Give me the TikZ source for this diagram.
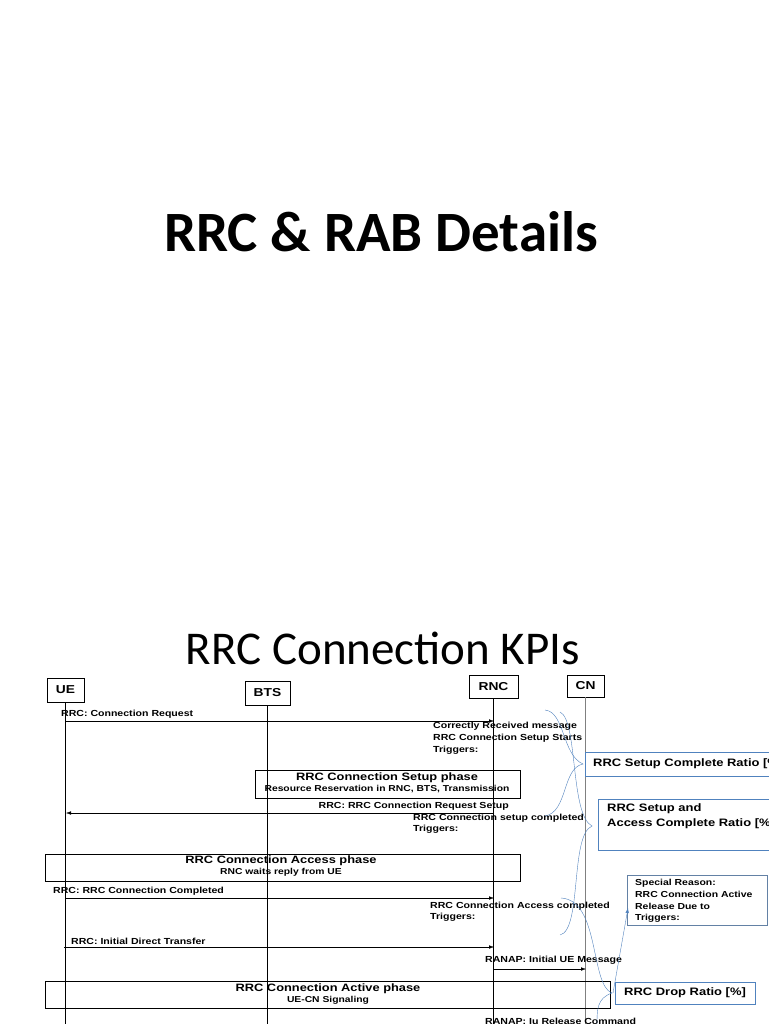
\documentclass[tikz,border=0pt]{standalone}
\usepackage{fontspec}
\setmainfont{Liberation Sans}[FakeStretch=1.2]
\newfontfamily\carlitofont{Carlito}
\usetikzlibrary{arrows.meta}
\definecolor{bl}{RGB}{80,130,190}
\begin{document}
\begin{tikzpicture}[x=1pt,y=-1pt,
 life/.style={draw,thin,inner sep=2pt,font=\bfseries\fontsize{11.5}{12}\selectfont},
 msg/.style={font=\bfseries\fontsize{8.8}{11}\selectfont,inner sep=0pt,anchor=west},
 arr/.style={-{Latex[length=5pt,width=3.5pt]},thin},
 phase/.style={draw,thin},
 ptitle/.style={font=\bfseries\fontsize{10.7}{12}\selectfont,inner sep=0pt},
 psub/.style={font=\bfseries\fontsize{8.6}{10}\selectfont,inner sep=0pt},
 kbox/.style={draw=bl,thin},
 ktext/.style={font=\bfseries\fontsize{10.8}{15}\selectfont,align=left,anchor=west,inner sep=0pt},
 br/.style={bl,thin}]
\useasboundingbox (0,0) rectangle (768,1024);
\fill[white] (0,0) rectangle (768,1024);
\node[font=\carlitofont\bfseries\fontsize{57}{64}\selectfont] (t1) at (381,232) {RRC \& RAB Details};
\node[font=\carlitofont\fontsize{47}{54}\selectfont] (t2) at (383,648) {RRC Connection KPIs};
% lifelines
\node[life,minimum width=37pt,minimum height=24pt] (ue) at (65.5,690) {UE};
\node[life,minimum width=45pt,minimum height=24pt] (bts) at (267.5,693) {BTS};
\node[life,minimum width=49pt,minimum height=23pt] (rnc) at (493.5,686.5) {RNC};
\node[life,minimum width=37pt,minimum height=22pt] (cn) at (585.5,686) {CN};
\coordinate (ueE) at (66,1024);\coordinate (btsE) at (268,1024);
\coordinate (rncE) at (494,1024);\coordinate (cnE) at (586,1024);
\draw[thin] (ue.south) -- (ue.south|-ueE);
\draw[thin] (bts.south) -- (bts.south|-btsE);
\draw[thin] (rnc.south) -- (rnc.south|-rncE);
\draw[thin,gray] (cn.south) -- (cn.south|-cnE);
% phase boxes
\draw[phase] (255,770) rectangle (520,798);
\node[ptitle] (p1) at (387,777.5) {RRC Connection Setup phase};
\node[psub] (p1b) at (387,789.5) {Resource Reservation in RNC, BTS, Transmission};
\draw[phase] (45,854) rectangle (520,881);
\node[ptitle] (p2) at (281,860.5) {RRC Connection Access phase};
\node[psub] (p2b) at (281,872.5) {RNC waits reply from UE};
\draw[phase] (45,981) rectangle (610,1008);
\node[ptitle] (p3) at (328,989) {RRC Connection Active phase};
\node[psub] (p3b) at (328,1000.5) {UE-CN Signaling};
% messages
\coordinate (m1a) at (66,721);\coordinate (m1b) at (494,721);
\draw[arr] (m1a) -- (m1b);
\node[msg] (l1) at (61,714.5) {RRC: Connection Request};
\node[msg,align=left,anchor=north west,font=\bfseries\fontsize{8.8}{11.8}\selectfont] (c1) at (433,722) {Correctly Received message\\RRC Connection Setup Starts\\Triggers:};
\coordinate (m2a) at (494,813);\coordinate (m2b) at (66,813);
\draw[arr] (m2a) -- (m2b);
\node[msg,anchor=east] (l2) at (509,806) {RRC: RRC Connection Request Setup};
\node[msg,align=left,anchor=north west] (c2) at (413,814) {RRC Connection setup completed\\Triggers:};
\coordinate (m3a) at (66,898);\coordinate (m3b) at (494,898);
\draw[arr] (m3a) -- (m3b);
\node[msg] (l3) at (53,891) {RRC: RRC Connection Completed};
\node[msg,align=left,anchor=north west] (c3) at (430,902) {RRC Connection Access completed\\Triggers:};
\coordinate (m4a) at (64,947);\coordinate (m4b) at (494,947);
\draw[arr] (m4a) -- (m4b);
\node[msg] (l4) at (71,941) {RRC: Initial Direct Transfer};
\coordinate (m5a) at (494,969);\coordinate (m5b) at (586,969);
\draw[arr] (m5a) -- (m5b);
\node[msg] (l5) at (485,960) {RANAP: Initial UE Message};
\node[msg] (l6) at (485,1021) {RANAP: Iu Release Command};
% KPI boxes
\draw[kbox] (585,752) rectangle (775,776);
\node[ktext] (k1) at (593,764) {RRC Setup Complete Ratio [\%]};
\draw[kbox] (598,799) rectangle (775,850);
\node[ktext,anchor=north west] (k2) at (607,803) {RRC Setup and\\Access Complete Ratio [\%]};
\draw[kbox,draw=bl!60!gray] (627,875) rectangle (767,925);
\node[ktext,anchor=north west,font=\bfseries\fontsize{8.7}{11.8}\selectfont] (k3) at (635,879) {Special Reason:\\RRC Connection Active\\Release Due to\\Triggers:};
\draw[kbox] (615,982) rectangle (755,1004);
\coordinate (k4w) at (613,993);
\node[ktext] (k4) at (624,993) {RRC Drop Ratio [\%]};
% braces
\draw[br] (545,710) .. controls (565,712) and (562,755) .. (583,764) .. controls (562,768) and (568,812) .. (545,816);
\draw[br] (560,712) .. controls (578,720) and (570,815) .. (592,826) .. controls (570,835) and (582,930) .. (560,935);
\draw[br] (561,898) .. controls (600,900) and (590,985) .. (612,993) .. controls (597,998) and (597,1010) .. (597,1024);
\draw[bl,-{Latex[length=5pt,width=3.5pt]}] (k4w) -- (628,908);
\end{tikzpicture}
\end{document}
